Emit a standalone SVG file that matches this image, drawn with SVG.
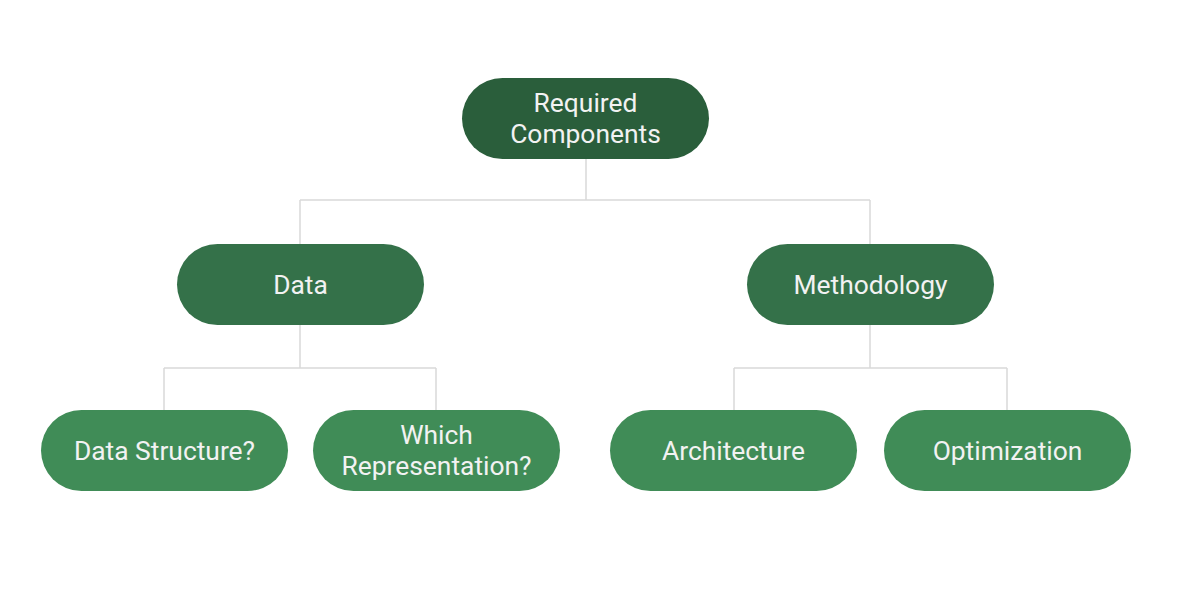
<svg xmlns="http://www.w3.org/2000/svg" width="1182" height="592" viewBox="0 0 1182 592">
<style>
.l0{fill:#2a5e3b}
.l1{fill:#347149}
.l2{fill:#408c57}
text{font-family:Roboto,"Liberation Sans",sans-serif;font-size:26.4px;fill:#f2f2f2;text-anchor:middle}
.c{stroke:#d9d9d9;stroke-width:1.5;fill:none}
</style>
<rect width="1182" height="592" fill="#ffffff"/>
<g id="connectors">
<path class="c" d="M586 159V200M300 200H870M300 200V244M870 200V244"/>
<path class="c" d="M300 325V368M164 368H436M164 368V410M436 368V410"/>
<path class="c" d="M870 325V368M734 368H1007M734 368V410M1007 368V410"/>
</g>
<g id="n-required">
<rect class="l0" x="462" y="78" width="247" height="81" rx="40.5"/>
<text x="585.5" y="112">Required</text>
<text x="585.5" y="143">Components</text>
</g>
<g id="n-data">
<rect class="l1" x="177" y="244" width="247" height="81" rx="40.5"/>
<text x="300.5" y="294">Data</text>
</g>
<g id="n-methodology">
<rect class="l1" x="747" y="244" width="247" height="81" rx="40.5"/>
<text x="870.5" y="294">Methodology</text>
</g>
<g id="n-datastructure">
<rect class="l2" x="41" y="410" width="247" height="81" rx="40.5"/>
<text x="164.5" y="460">Data Structure?</text>
</g>
<g id="n-representation">
<rect class="l2" x="313" y="410" width="247" height="81" rx="40.5"/>
<text x="436.5" y="444">Which</text>
<text x="436.5" y="475">Representation?</text>
</g>
<g id="n-architecture">
<rect class="l2" x="610" y="410" width="247" height="81" rx="40.5"/>
<text x="733.5" y="460">Architecture</text>
</g>
<g id="n-optimization">
<rect class="l2" x="884" y="410" width="247" height="81" rx="40.5"/>
<text x="1007.5" y="460">Optimization</text>
</g>
</svg>
